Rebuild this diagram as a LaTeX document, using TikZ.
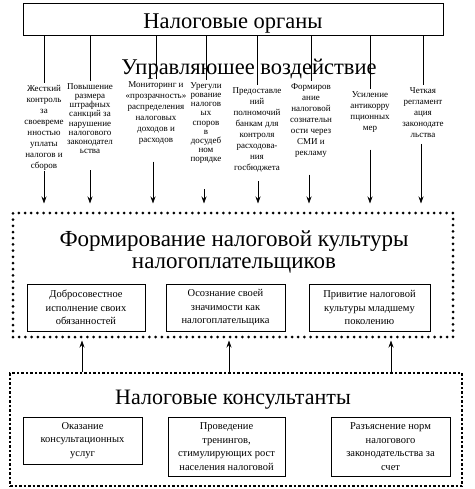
\documentclass[tikz,border=0pt]{standalone}
\usepackage{fontspec}
\setmainfont{Liberation Serif}
\usetikzlibrary{arrows.meta}

\begin{document}
\begin{tikzpicture}[
            x = 1pt, y = -1pt, % one unit per pixel, y going down
            > = {Stealth[length=7pt,width=5pt]}, % arrow head style
            shorten > = 2pt, % don't touch arrow head to frame
            line width = 0.8pt,
            col/.style = {align=center, inner sep=0pt, anchor=north, font=\fontsize{9}{11}\selectfont},
            tightcol/.style = {col, font=\fontsize{9}{9.2}\selectfont},
            box/.style = {draw, align=center, inner sep=2pt, font=\fontsize{10.5}{13.5}\selectfont},
            roundframe/.style = {draw, line width=3pt, dash pattern=on 0pt off 6.2pt, line cap=round},
            squareframe/.style = {draw, line width=2.5pt, dash pattern=on 2.5pt off 2pt}
        ]
\useasboundingbox (0,0) rectangle (474,489);

\node[draw, minimum width=420, minimum height=32, text height=22pt, text depth=2pt, font=\fontsize{22.5}{24}\selectfont] (organs) at (233,19) {Налоговые органы};

% columns under the top box
\node[col] (c1) at (44,85) {Жесткий\\контроль\\за\\своевреме\\нностью\\уплаты\\налогов и\\сборов};
\node[tightcol] (c2) at (90,83) {Повышение\\размера\\штрафных\\санкций за\\нарушение\\налогового\\законодател\\ьства};
\node[col] (c3) at (156,81) {Мониторинг и\\«прозрачность»\\распределения\\налоговых\\доходов и\\расходов};
\node[tightcol] (c4) at (206,82) {Урегули\\рование\\налогов\\ых\\споров\\в\\досудеб\\ном\\порядке};
\node[col] (c5) at (257,87) {Предоставле\\ний\\полномочий\\банкам для\\контроля\\расходова-\\ния\\госбюджета};
\node[col] (c6) at (311,83) {Формиров\\ание\\налоговой\\сознательн\\ости через\\СМИ и\\рекламу};
\node[col] (c7) at (370,91) {Усиление\\антикорру\\пционных\\мер};
\node[col] (c8) at (423,87) {Четкая\\регламент\\ация\\законодате\\льства};

\draw (organs.south -| c1) -- (c1.north);
\draw (organs.south -| c2) -- (c2.north);
\draw (organs.south -| c3) -- (c3.north);
\draw (organs.south -| c4) -- (c4.north);
\draw (organs.south -| c5) -- (c5.north);
\draw (organs.south -| c6) -- (c6.north);
\draw (organs.south -| c7) -- (c7.north);
\draw (organs.south -| c8) -- (c8.north);

\node[font=\fontsize{22.5}{24}\selectfont, anchor=base] (impact) at (249,75) {Управляюшее воздействие};

% culture of taxpayers
\node[roundframe, minimum width=440, minimum height=124] (culture) at (233,275) {};
\node[align=center, font=\fontsize{23}{22}\selectfont] (culturetitle) at (234,252.5) {Формирование налоговой культуры\\налогоплательщиков};
\node[box, minimum width=118, minimum height=47] (a) at (86,307.5) {Добросовестное\\исполнение своих\\обязанностей};
\node[box, minimum width=119, minimum height=47] (b) at (225.5,307.5) {Осознание своей\\значимости как\\налогоплательщика};
\node[box, minimum width=121, minimum height=47] (c) at (369.5,307.5) {Привитие налоговой\\культуры младшему\\поколению};

\draw[->, shorten >=8pt] (c1.south) -- (c1.south |- culture.north);
\draw[->, shorten <=16pt, shorten >=8pt] (c2.south) -- (c2.south |- culture.north);
\draw[->, shorten <=17pt, shorten >=8pt] ([xshift=-3pt]c3.south) -- ([xshift=-3pt]c3.south |- culture.north);
\draw[->, shorten <=25pt, shorten >=8pt] ([xshift=-2pt]c4.south) -- ([xshift=-2pt]c4.south |- culture.north);
\draw[->, shorten <=9pt, shorten >=8pt] ([xshift=1pt]c5.south) -- ([xshift=1pt]c5.south |- culture.north);
\draw[->, shorten <=17pt, shorten >=8pt] ([xshift=-2pt]c6.south) -- ([xshift=-2pt]c6.south |- culture.north);
\draw[->, shorten <=17pt, shorten >=8pt] (c7.south) -- (c7.south |- culture.north);
\draw[->, shorten <=6pt, shorten >=8pt] ([xshift=-2pt]c8.south) -- ([xshift=-2pt]c8.south |- culture.north);

% tax consultants
\node[squareframe, minimum width=452, minimum height=113] (consult) at (236,429.5) {};
\node[font=\fontsize{22}{24}\selectfont, anchor=base] (consulttitle) at (233,404) {Налоговые консультанты};
\node[box, minimum width=119, minimum height=47] (d) at (82.5,440.5) {Оказание\\консультационных\\услуг};
\node[box, minimum width=117, minimum height=59] (e) at (226.5,446.5) {Проведение\\тренингов,\\стимулирующих рост\\населения налоговой};
\node[box, minimum width=119, minimum height=59] (f) at (390.5,446.5) {Разъяснение норм\\налогового\\законодательства за\\счет};

\draw[->] (82,0 |- consult.north) -- (82,0 |- culture.south);
\draw[->] (229,0 |- consult.north) -- (229,0 |- culture.south);
\draw[->] (391,0 |- consult.north) -- (391,0 |- culture.south);
\end{tikzpicture}
\end{document}
